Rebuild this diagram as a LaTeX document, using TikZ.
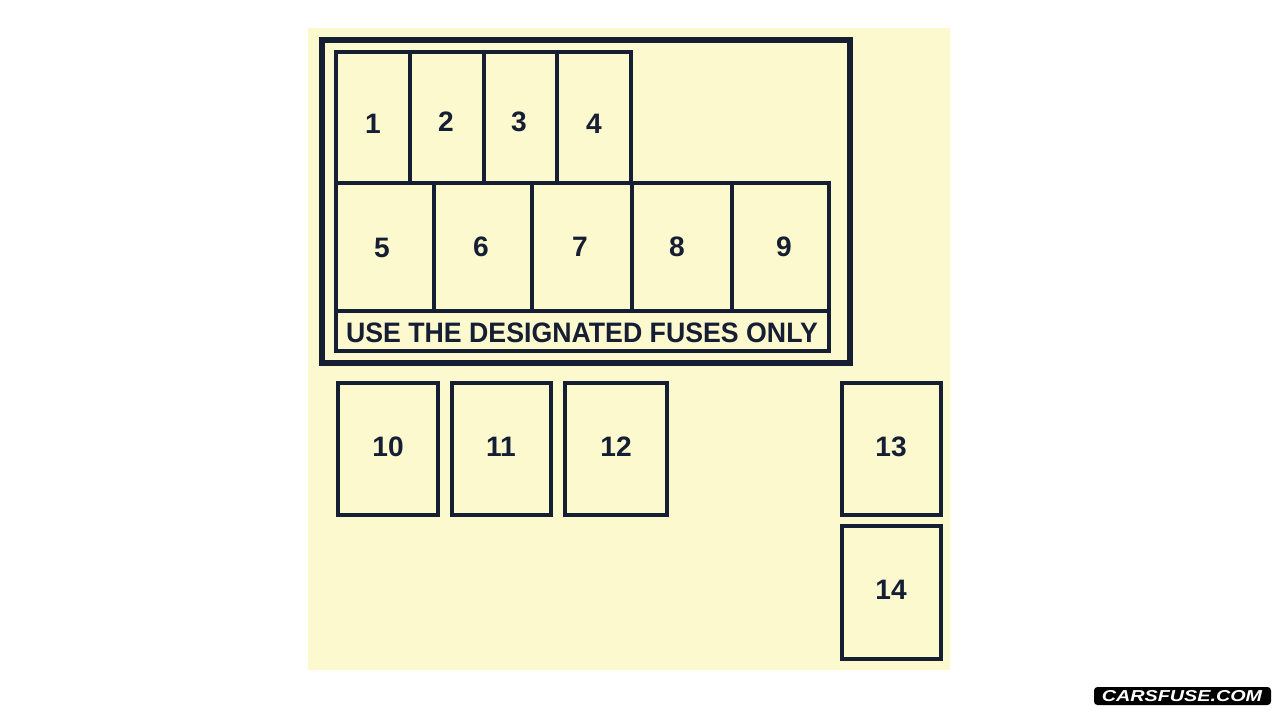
\documentclass[tikz,border=0pt]{standalone}
\usepackage{fontspec}
\setmainfont{Liberation Sans}
\definecolor{panel}{RGB}{252,249,206}
\definecolor{ink}{RGB}{22,30,52}

\begin{document}
\begin{tikzpicture}[x=0.02cm,y=-0.02cm,
        fuse/.style={draw=ink,line width=2pt,fill=panel},
        num/.style={font=\bfseries\fontsize{16}{16}\selectfont,text=ink,inner sep=0pt}]
            \useasboundingbox (0,0) rectangle (1280,720);
            \fill[white] (0,0) rectangle (1280,720);
            \fill[panel] (308,28) rectangle (950,670);

            % main box
            \draw[draw=ink,line width=3.6pt] (322,40) rectangle (850,363);

            % top row
            \draw[fuse] (336,52) rectangle (410,183);
            \draw[fuse] (410,52) rectangle (484,183);
            \draw[fuse] (484,52) rectangle (557,183);
            \draw[fuse] (557,52) rectangle (631,183);
            \node[num] (n1) at (373,124) {1};
            \node[num] (n2) at (446,122) {2};
            \node[num] (n3) at (519,122) {3};
            \node[num] (n4) at (594,124) {4};

            % second row
            \draw[fuse] (336,183) rectangle (434,311);
            \draw[fuse] (434,183) rectangle (532,311);
            \draw[fuse] (532,183) rectangle (632,311);
            \draw[fuse] (632,183) rectangle (732,311);
            \draw[fuse] (732,183) rectangle (829,311);
            \node[num] (n5) at (382,248) {5};
            \node[num] (n6) at (481,247) {6};
            \node[num] (n7) at (580,247) {7};
            \node[num] (n8) at (677,247) {8};
            \node[num] (n9) at (784,247) {9};

            % label strip
            \draw[fuse] (336,311) rectangle (829,351);
            \node[num,xscale=0.95] (note) at (582,333) {USE THE DESIGNATED FUSES ONLY};

            % loose fuses
            \draw[fuse] (338,383) rectangle (438,515);
            \draw[fuse] (452,383) rectangle (551,515);
            \draw[fuse] (565,383) rectangle (667,515);
            \draw[fuse] (842,383) rectangle (941,515);
            \draw[fuse] (842,526) rectangle (941,659);
            \node[num] (n10) at (388,447) {10};
            \node[num] (n11) at (501,447) {11};
            \node[num] (n12) at (616,447) {12};
            \node[num] (n13) at (891,447) {13};
            \node[num] (n14) at (891,590) {14};

            % watermark
            \fill[black,rounded corners=2pt] (1094,687) rectangle (1271,705);
            \node[text=white,font=\bfseries\itshape\fontsize{9}{9}\selectfont,xscale=1.25,inner sep=0pt] (mark) at (1182,696) {CARSFUSE.COM};

        \end{tikzpicture}
\end{document}
